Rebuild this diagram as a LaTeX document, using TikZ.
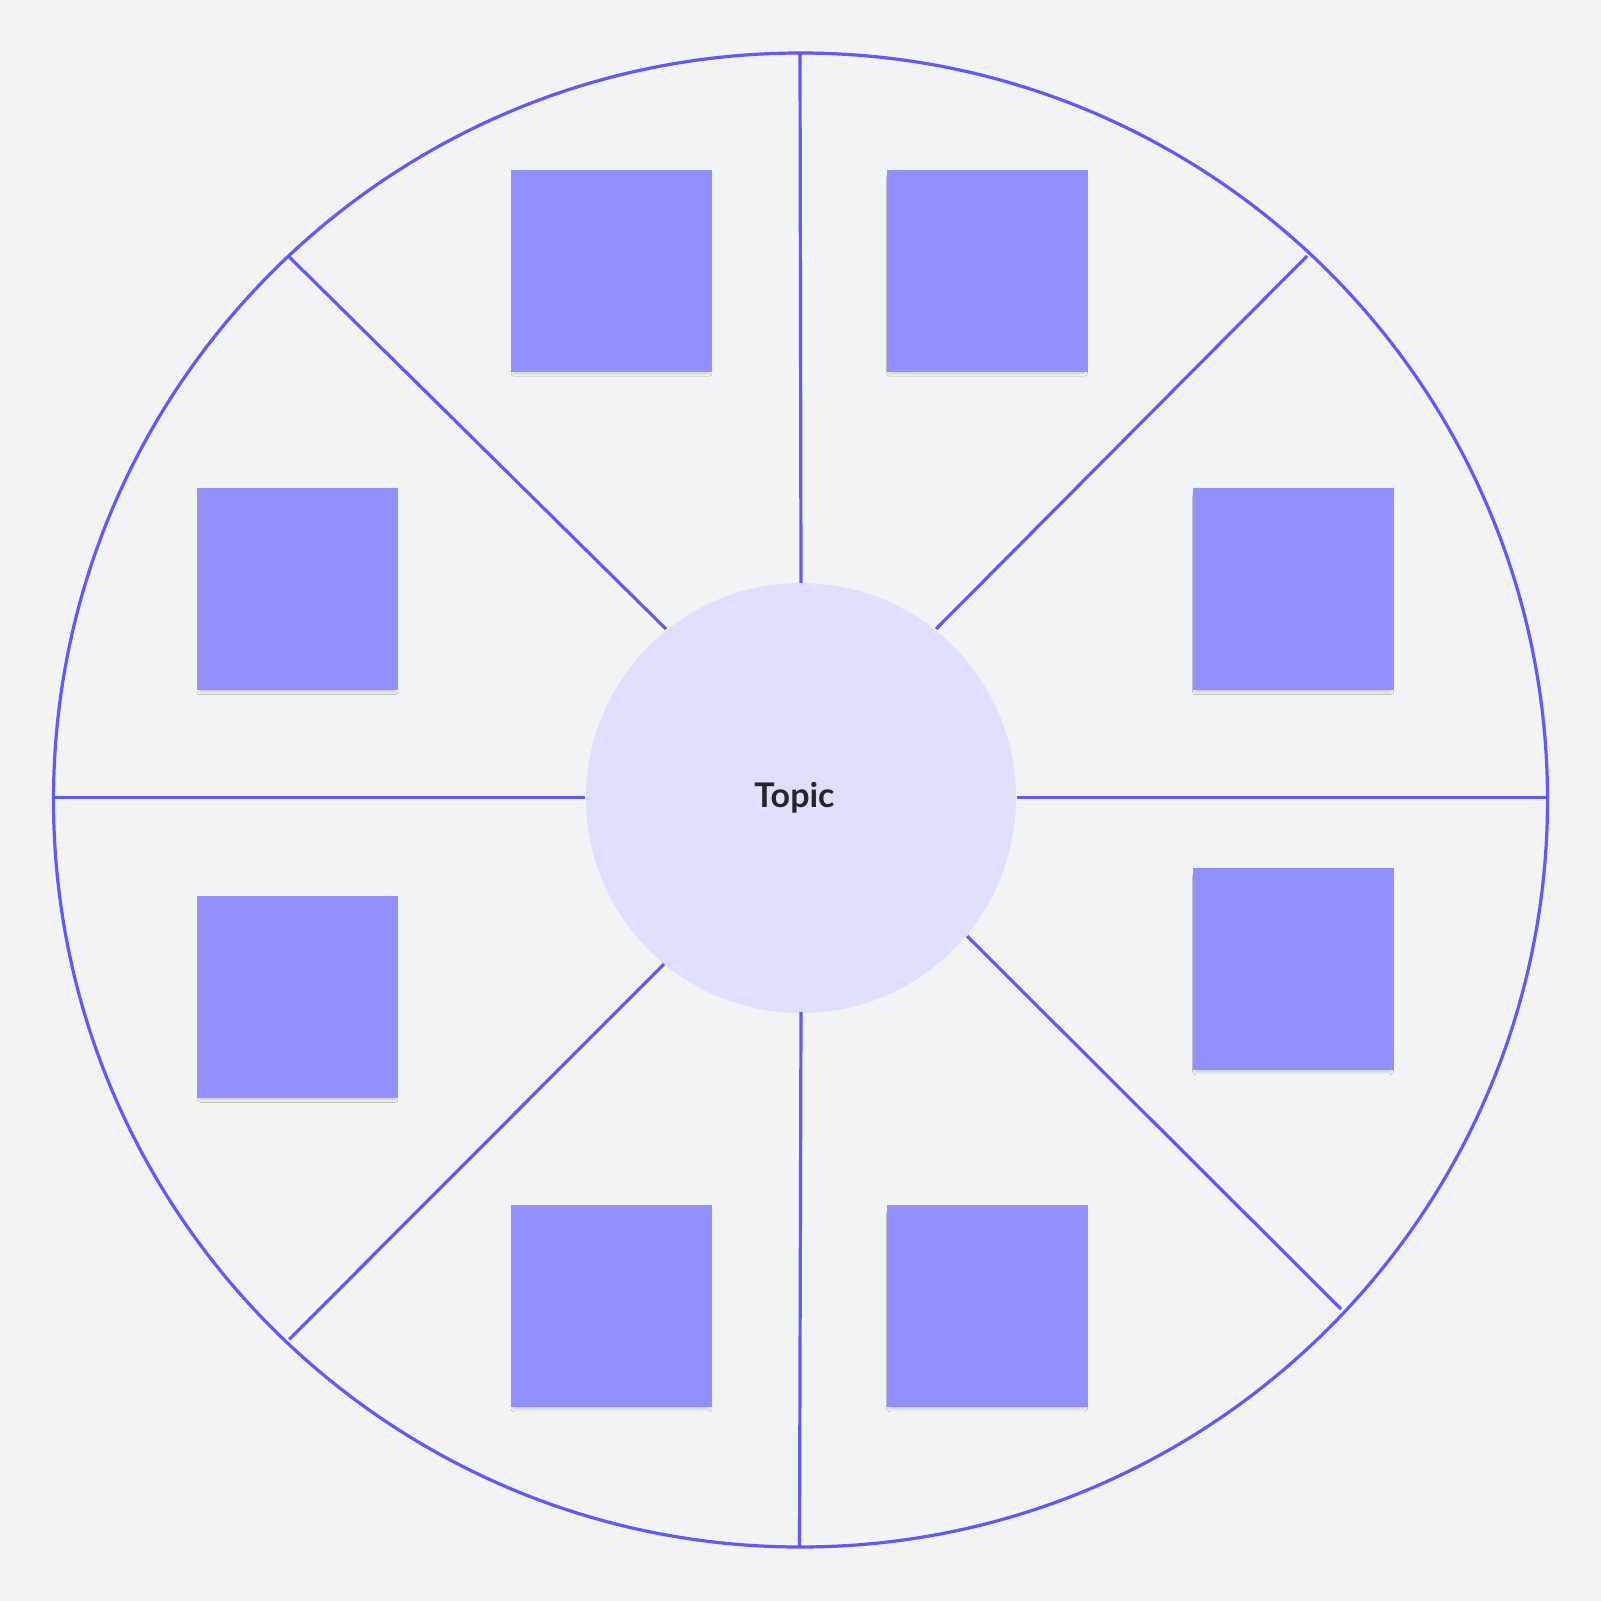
\documentclass[tikz,border=0pt]{standalone}
\usepackage{fontspec}
\newfontfamily\topicfont{Lato}
\usetikzlibrary{shadows.blur}
\definecolor{bgcol}{HTML}{F2F3F5}
\definecolor{spoke}{HTML}{615AF6}
\definecolor{hubfill}{HTML}{DEDFFC}
\definecolor{notefill}{HTML}{9290FD}
\definecolor{inkcol}{HTML}{25262B}
\tikzset{spokeline/.style={spoke, line width=3.2pt},
  note/.style={fill=notefill, minimum width=201pt, minimum height=202pt, inner sep=0pt,
    blur shadow={shadow xshift=0pt, shadow yshift=-5pt, shadow scale=0.97, shadow blur radius=3pt, shadow opacity=18}},
  hub/.style={circle, fill=hubfill, minimum size=430pt, inner sep=0pt}}

\begin{document}
\begin{tikzpicture}[x=1pt, y=-1pt]
      \fill [bgcol] (0, 0) rectangle (1601, 1601);
      \useasboundingbox (0, 0) rectangle (1601, 1601);

      \draw [spokeline] (800.5, 800) circle (747);
      \node [hub] (topic) at (801, 798) {};
      \node [anchor=base, inkcol, font=\topicfont\bfseries\fontsize{34}{40}\selectfont] (label) at (794.5, 807.7) {Topic};

      % spoke ends
      \coordinate (n-in) at (801, 583);    \coordinate (n-out) at (800, 53);
      \coordinate (ne-in) at (936, 629);   \coordinate (ne-out) at (1307, 256);
      \coordinate (e-in) at (1017, 797.7); \coordinate (e-out) at (1547, 797.7);
      \coordinate (se-in) at (967, 936);   \coordinate (se-out) at (1341, 1309);
      \coordinate (s-in) at (801, 1012);   \coordinate (s-out) at (799.5, 1547);
      \coordinate (sw-in) at (664, 964);   \coordinate (sw-out) at (289.3, 1339.3);
      \coordinate (w-in) at (585, 797.7);  \coordinate (w-out) at (54, 797.7);
      \coordinate (nw-in) at (666, 629);   \coordinate (nw-out) at (289, 256.7);

      \foreach \d in {n, ne, e, se, s, sw, w, nw}
        \draw [spokeline] (\d-in) -- (\d-out);

      \node [note] (note-nl) at (611.5, 270.5) {};
      \node [note] (note-nr) at (987, 270.5) {};
      \node [note] (note-eu) at (1293, 589) {};
      \node [note] (note-el) at (1293, 969) {};
      \node [note] (note-sr) at (987, 1306) {};
      \node [note] (note-sl) at (611.5, 1306) {};
      \node [note] (note-wl) at (297.5, 996.5) {};
      \node [note] (note-wu) at (297.5, 589) {};
    \end{tikzpicture}
\end{document}
